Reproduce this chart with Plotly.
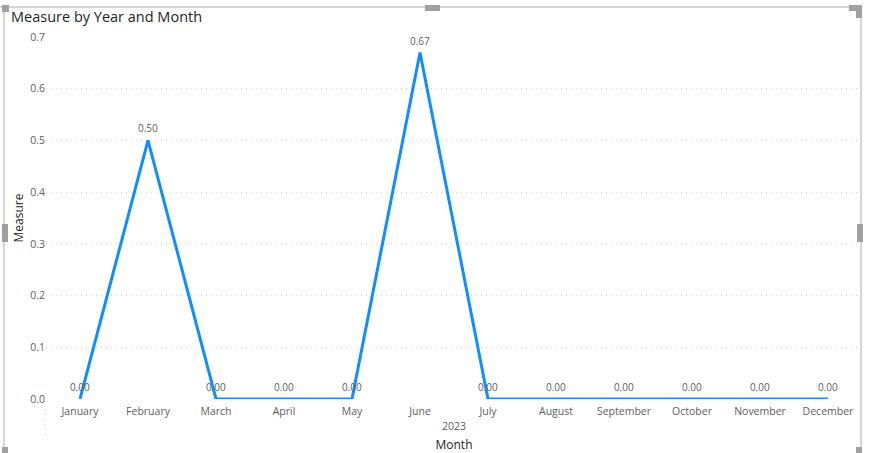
import plotly.graph_objects as go

months = ["January", "February", "March", "April", "May", "June",
          "July", "August", "September", "October", "November", "December"]
measure = [0.0, 0.50, 0.0, 0.0, 0.0, 0.67, 0.0, 0.0, 0.0, 0.0, 0.0, 0.0]
year = "2023"

W, H = 880, 453
L, R, T, B = 46, 18, 37, 54


def px_x(p):
    return (p - L) / (W - L - R)


def px_y(p):
    return (H - B - p) / (H - T - B)


fig = go.Figure()
fig.add_scatter(
    x=months, y=measure, mode="lines",
    line=dict(color="#118DFF", width=3),
    hoverinfo="x+y",
)
# data labels above each point
for m, v in zip(months, measure):
    fig.add_annotation(x=m, y=v, text=f"{v:.2f}", showarrow=False,
                       yanchor="bottom", yshift=3,
                       font=dict(family="Open Sans", size=10, color="#605E5C"))

fig.update_layout(
    width=W, height=H,
    margin=dict(l=L, r=R, t=T, b=B),
    paper_bgcolor="white", plot_bgcolor="white",
    showlegend=False,
    font=dict(family="Open Sans", color="#605E5C"),
)
fig.add_annotation(text="Measure by Year and Month", xref="paper", yref="paper",
                   x=px_x(9), y=px_y(17), xanchor="left", yanchor="middle",
                   showarrow=False,
                   font=dict(family="Open Sans", size=14.5, color="#252423"))
fig.update_xaxes(
    type="category", range=[-0.5, len(months) - 0.5],
    showgrid=False, zeroline=False, showline=False,
    automargin=False, ticks="", ticklabelstandoff=4,
    tickfont=dict(size=10.5, color="#605E5C"),
    title=dict(text="Month", font=dict(size=12, color="#252423"), standoff=30),
)
fig.update_yaxes(
    range=[0, 0.7], dtick=0.1, tickformat=".1f",
    showgrid=True, gridcolor="#CFCFCF", griddash="1px,4px", zeroline=False,
    showline=False, automargin=False, ticks="",
    tickfont=dict(size=10.5, color="#605E5C"),
    title=dict(text="Measure", font=dict(size=12, color="#252423"), standoff=4),
)

# year label under the month ticks
fig.add_annotation(text=year, xref="paper", yref="paper", x=0.5, y=px_y(426),
                   yanchor="middle", showarrow=False,
                   font=dict(size=10.5, color="#605E5C"))

# dotted year separator under the axis
fig.add_shape(type="line", xref="paper", yref="paper",
              x0=px_x(45), x1=px_x(45), y0=0, y1=px_y(436),
              line=dict(color="#CFCFCF", width=1, dash="1px,4px"))

# visual frame
frame = dict(color="#C8C8C8", width=1.5)
fig.add_shape(type="line", xref="paper", yref="paper",
              x0=px_x(0), x1=px_x(862), y0=px_y(7), y1=px_y(7), line=frame)
fig.add_shape(type="line", xref="paper", yref="paper",
              x0=px_x(861), x1=px_x(861), y0=px_y(7), y1=px_y(453), line=frame)
fig.add_shape(type="line", xref="paper", yref="paper",
              x0=px_x(4), x1=px_x(4), y0=px_y(7), y1=px_y(453), line=frame)
handle = dict(color="#A0A0A0", width=0)
for x0, y0, x1, y1 in [(2, 5, 9, 12), (425, 5, 440, 11), (849, 5, 862, 11),
                       (856, 5, 862, 18), (2, 224, 8, 242), (857, 224, 863, 242),
                       (2, 447, 8, 453), (856, 447, 862, 453)]:
    fig.add_shape(type="rect", xref="paper", yref="paper",
                  x0=px_x(x0), x1=px_x(x1), y0=px_y(y0), y1=px_y(y1),
                  fillcolor="#A0A0A0", line=handle)

fig.write_html("out.html", config={"displayModeBar": False},
               post_script="document.body.style.margin='0';")
